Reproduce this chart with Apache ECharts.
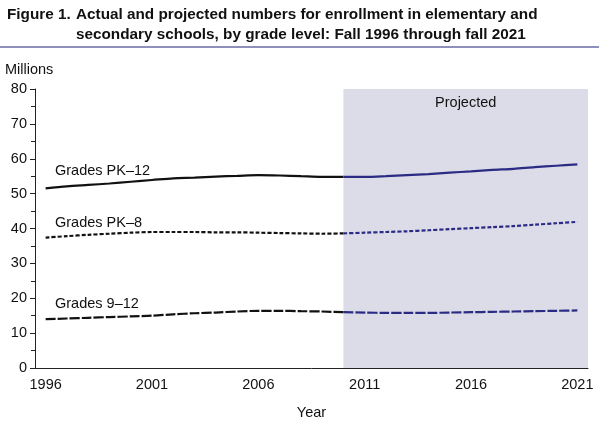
<!DOCTYPE html>
<html>
<head>
<meta charset="utf-8">
<script src="https://cdn.jsdelivr.net/npm/echarts@6/dist/echarts.min.js"></script>
<style>
html,body{margin:0;padding:0;background:#fff;}
#main{width:599px;height:426px;}
</style>
</head>
<body>
<div id="main"></div>
<script>
var years = ['1996','1997','1998','1999','2000','2001','2002','2003','2004','2005','2006','2007','2008','2009','2010',
             '2011','2012','2013','2014','2015','2016','2017','2018','2019','2020','2021'];
// actual values 1996-2010 (millions)
var pk12Actual = [51.5,52.1,52.5,52.9,53.4,53.9,54.4,54.6,54.9,55.1,55.3,55.2,55.0,54.8,54.8];
var pk8Actual  = [37.4,37.8,38.2,38.5,38.8,39.0,39.0,39.0,38.9,38.9,38.8,38.7,38.6,38.5,38.6];
var g912Actual = [14.0,14.2,14.4,14.6,14.8,15.0,15.4,15.7,15.9,16.2,16.4,16.4,16.3,16.2,16.0];
// projected values 2010-2021
var pk12Proj = [54.8,54.8,55.0,55.3,55.6,56.0,56.4,56.8,57.1,57.6,58.0,58.4];
var pk8Proj  = [38.6,38.8,39.0,39.2,39.5,39.8,40.1,40.4,40.7,41.1,41.5,41.9];
var g912Proj = [16.0,15.9,15.8,15.8,15.8,15.9,16.0,16.1,16.2,16.3,16.4,16.5];
var projStart = 2010;

var chart = echarts.init(document.getElementById('main'));
var nActual = pk12Actual.length;
function actual(arr){ return arr.slice(); }
function proj(arr){
  var out = [];
  for (var i = 0; i < nActual - 1; i++) out.push('-');
  return out.concat(arr);
}
var black = '#111';
var blue = '#2b2b84';
var font = 'Liberation Sans, Arial, sans-serif';
function line(name, data, color, type){
  return {
    name: name, type: 'line', data: data, smooth: 0.3,
    symbol: 'none', xAxisIndex: 0, yAxisIndex: 0,
    lineStyle: {color: color, width: 2.2, type: type},
    z: 3
  };
}
var shortDash = [4, 2];
var longDash = [10, 2];

option = {
  backgroundColor: '#fff',
  animation: false,
  textStyle: {fontFamily: font},
  grid: {left: 35, right: 11, top: 89, bottom: 58},
  xAxis: [{
    type: 'category',
    data: years,
    boundaryGap: true,
    name: 'Year',
    nameLocation: 'middle',
    nameGap: 37,
    nameTextStyle: {color: '#111', fontSize: 14.5},
    axisLine: {lineStyle: {color: '#222', width: 1}},
    axisTick: {alignWithLabel: true, interval: 0, length: 5, lineStyle: {color: '#222'}},
    axisLabel: {interval: 4, color: '#111', fontSize: 14.5, margin: 9}
  }, {
    type: 'value', min: 1995.5, max: 2021.5, show: false
  }],
  yAxis: {
    type: 'value',
    min: 0, max: 80, interval: 10,
    axisLine: {show: true, lineStyle: {color: '#222'}},
    axisTick: {show: true, length: 5, lineStyle: {color: '#222'}},
    minorTick: {show: true, splitNumber: 2, length: 4, lineStyle: {color: '#222'}},
    splitLine: {show: false},
    axisLabel: {color: '#111', fontSize: 14.5, margin: 8}
  },
  graphic: [
    {type: 'text', left: 7, top: 5, style: {text: 'Figure 1.', font: 'bold 15.3px ' + font, fill: '#111', lineHeight: 20}},
    {type: 'text', left: 76, top: 5, style: {text: 'Actual and projected numbers for enrollment in elementary and\nsecondary schools, by grade level: Fall 1996 through fall 2021', font: 'bold 15.3px ' + font, fill: '#111', lineHeight: 20}},
    {type: 'line', shape: {x1: 0, y1: 47, x2: 599, y2: 47}, style: {stroke: '#6a6aa8', lineWidth: 1.5}},
    {type: 'text', left: 5, top: 62, style: {text: 'Millions', font: '14.5px ' + font, fill: '#111'}},
    {type: 'text', left: 55, top: 163, style: {text: 'Grades PK–12', font: '14.5px ' + font, fill: '#111'}},
    {type: 'text', left: 55, top: 215, style: {text: 'Grades PK–8', font: '14.5px ' + font, fill: '#111'}},
    {type: 'text', left: 55, top: 296, style: {text: 'Grades 9–12', font: '14.5px ' + font, fill: '#111'}}
  ],
  series: [
    {
      type: 'line', data: [], xAxisIndex: 1, yAxisIndex: 0, silent: true,
      markArea: {
        silent: true,
        itemStyle: {color: '#dcdce8'},
        label: {show: true, position: 'insideTop', distance: 6, color: '#111', fontSize: 14.5, formatter: 'Projected'},
        data: [[{xAxis: projStart, yAxis: 80}, {xAxis: 2021.5, yAxis: 0}]]
      },
      z: 1
    },
    line('PK-12', actual(pk12Actual), black, 'solid'),
    line('PK-12 projected', proj(pk12Proj), blue, 'solid'),
    line('PK-8', actual(pk8Actual), black, shortDash),
    line('PK-8 projected', proj(pk8Proj), blue, shortDash),
    line('9-12', actual(g912Actual), black, longDash),
    line('9-12 projected', proj(g912Proj), blue, longDash)
  ]
};
chart.setOption(option);
</script>
</body>
</html>
